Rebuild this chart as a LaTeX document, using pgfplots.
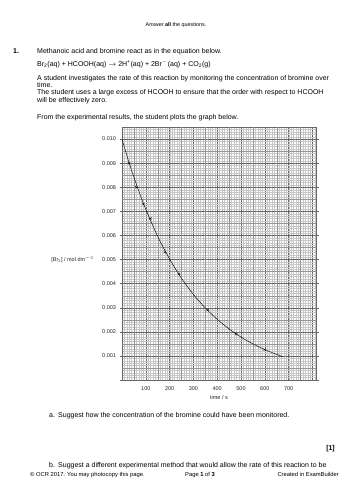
\documentclass[border=0pt]{standalone}
\usepackage{pgfplots}
\pgfplotsset{compat=1.18}
\usepackage{fontspec}
\setmainfont{Liberation Sans}
\begin{document}
\begin{tikzpicture}
\begin{scope}[x=1pt,y=1pt]
\path[use as bounding box, fill=white] (0,0) rectangle (353,-500);
\tikzset{body/.style={anchor=mid west, inner sep=0pt, font=\fontsize{7}{8.4}\selectfont}}
\node[anchor=mid, inner sep=0pt, font=\fontsize{5.4}{6}\selectfont] at (176,-24) {Answer \textbf{all} the questions.};
\node[body] at (13,-51) {\textbf{1.}};
\node[body] at (37,-51) {Methanoic acid and bromine react as in the equation below.};
\node[body] at (37,-64) {Br\textsubscript{2}(aq) + HCOOH(aq) \(\rightarrow\) 2H\textsuperscript{+}(aq) + 2Br\textsuperscript{\(-\)}(aq) + CO\textsubscript{2}(g)};
\node[body] at (37,-77.5) {A student investigates the rate of this reaction by monitoring the concentration of bromine over};
\node[body] at (37,-85) {time.};
\node[body] at (37,-92) {The student uses a large excess of HCOOH to ensure that the order with respect to HCOOH};
\node[body] at (37,-99.5) {will be effectively zero.};
\node[body] at (37,-117) {From the experimental results, the student plots the graph below.};
\node[body] at (49,-415) {a.};
\node[body] at (58,-415) {Suggest how the concentration of the bromine could have been monitored.};
\node[anchor=mid east, inner sep=0pt, font=\fontsize{7}{8.4}\selectfont] at (335,-448) {\textbf{[1]}};
\node[body] at (49,-465) {b.};
\node[body] at (58,-465) {Suggest a different experimental method that would allow the rate of this reaction to be};
\node[anchor=mid west, inner sep=0pt, font=\fontsize{5.8}{6.5}\selectfont] at (30,-474) {\textcopyright{} OCR 2017. You may photocopy this page.};
\node[anchor=mid west, inner sep=0pt, font=\fontsize{5.8}{6.5}\selectfont] at (185,-474) {Page \textbf{1} of \textbf{3}};
\node[anchor=mid east, inner sep=0pt, font=\fontsize{5.8}{6.5}\selectfont] at (339,-474) {Created in ExamBuilder};
\end{scope}
\begin{axis}[
  at={(122pt,-380pt)}, anchor=south west,
  scale only axis, width=194pt, height=253pt,
  xmin=0, xmax=815, ymin=0, ymax=0.0105,
  scaled y ticks=false, scaled x ticks=false,
  axis line style={black!60, line width=0.4pt},
  xtick={0,100,200,300,400,500,600,700,800},
  xticklabels={,100,200,300,400,500,600,700,},
  ytick={0,0.001,0.002,0.003,0.004,0.005,0.006,0.007,0.008,0.009,0.010},
  yticklabels={,0.001,0.002,0.003,0.004,0.005,0.006,0.007,0.008,0.009,0.010},
  minor xtick={0,10,...,810},
  minor ytick={0.0001,0.0002,0.0003,0.0004,0.0005,0.0006,0.0007,0.0008,0.0009,
    0.0011,0.0012,0.0013,0.0014,0.0015,0.0016,0.0017,0.0018,0.0019,
    0.0021,0.0022,0.0023,0.0024,0.0025,0.0026,0.0027,0.0028,0.0029,
    0.0031,0.0032,0.0033,0.0034,0.0035,0.0036,0.0037,0.0038,0.0039,
    0.0041,0.0042,0.0043,0.0044,0.0045,0.0046,0.0047,0.0048,0.0049,
    0.0051,0.0052,0.0053,0.0054,0.0055,0.0056,0.0057,0.0058,0.0059,
    0.0061,0.0062,0.0063,0.0064,0.0065,0.0066,0.0067,0.0068,0.0069,
    0.0071,0.0072,0.0073,0.0074,0.0075,0.0076,0.0077,0.0078,0.0079,
    0.0081,0.0082,0.0083,0.0084,0.0085,0.0086,0.0087,0.0088,0.0089,
    0.0091,0.0092,0.0093,0.0094,0.0095,0.0096,0.0097,0.0098,0.0099,
    0.0101,0.0102,0.0103,0.0104},
  grid=both,
  minor grid style={black!22, line width=0.2pt},
  major grid style={black!60, line width=0.4pt},
  extra x ticks={50,150,250,350,450,550,650,750},
  extra y ticks={0.0005,0.0015,0.0025,0.0035,0.0045,0.0055,0.0065,0.0075,0.0085,0.0095},
  extra x tick labels={}, extra y tick labels={},
  extra tick style={grid=major, major grid style={black!42, line width=0.3pt}, major tick length=0pt},
  minor tick length=0pt,
  xtick style={draw=none},
  ytick style={black!60, line width=0.3pt},
  tick align=outside,
  major tick length=2.5pt,
  tick label style={font=\fontsize{5.5}{6}\selectfont, black!85},
  xticklabel style={yshift=-1pt},
  xlabel={time / s},
  xlabel style={at={(axis description cs:0.5,-0.07)}, anchor=center, font=\fontsize{5.5}{6}\selectfont, black!85},
  ylabel={[Br\textsubscript{2}] / mol dm\textsuperscript{$-$3}},
  ylabel style={rotate=-90, at={(axis description cs:-0.13,0.478)}, anchor=east, font=\fontsize{5.5}{6}\selectfont, black!85},
  clip=true,
]
\addplot[black, line width=0.45pt, smooth, no marks] coordinates {
  (0,0.01000) (25,0.00917) (50,0.00842) (75,0.00772) (100,0.00708)
  (150,0.00596) (200,0.00502) (250,0.00422) (300,0.00355) (350,0.00299)
  (400,0.00252) (450,0.00212) (500,0.00178) (550,0.00150) (600,0.00126)
  (650,0.00106) (675,0.00097)
};
\addplot[only marks, mark=x, mark size=1.6pt, black, line width=0.35pt] coordinates {
  (30,0.0090) (60,0.0080) (90,0.0073) (120,0.0067) (180,0.0053)
  (240,0.0044) (360,0.0029) (480,0.0019) (600,0.00126)
};
\end{axis}
\end{tikzpicture}
\end{document}
